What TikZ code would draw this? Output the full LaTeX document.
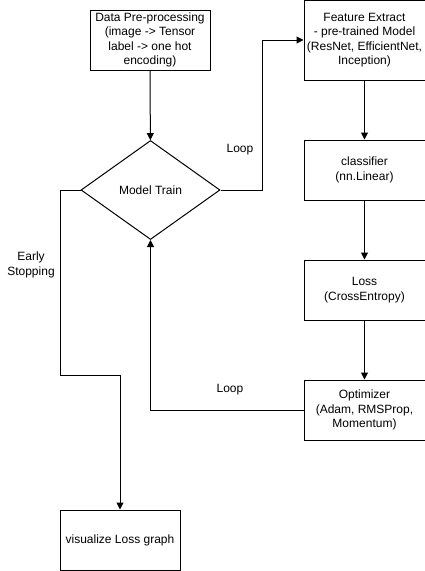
\documentclass[tikz,border=0pt]{standalone}
\usepackage{fontspec}
\setmainfont{Liberation Sans}
\usetikzlibrary{shapes.geometric,arrows.meta}
\tikzset{every node/.style={font=\fontsize{12}{14.4}\selectfont,align=center}}
\tikzset{stepbox/.style={draw,line width=1pt,minimum width=120pt,minimum height=60pt,inner sep=1pt}}
\tikzset{flow/.style={line width=1pt,-{Triangle[length=7pt,width=7pt]}}}

\begin{document}
\begin{tikzpicture}[x=1pt,y=-1pt]
        \useasboundingbox (0,0) rectangle (425,571);
        \node[stepbox] at (150,40) (prep) {Data Pre-processing\\(image -> Tensor\\label -> one hot\\encoding)};
        \node[stepbox,minimum width=121pt,minimum height=80pt] at (364.5,40) (feat) {Feature Extract\\- pre-trained Model\\(ResNet, EfficientNet,\\Inception)};
        \node[draw,diamond,line width=1pt,minimum width=139pt,minimum height=99pt,aspect=1.4,inner sep=0pt] at (150.5,190) (train) {Model Train};
        \node[stepbox,minimum width=121pt] at (364.5,170) (clf) {classifier\\(nn.Linear)};
        \node[stepbox,minimum width=121pt] at (364.5,290) (loss) {Loss\\(CrossEntropy)};
        \node[stepbox,minimum width=121pt] at (364.5,410) (optim) {Optimizer\\(Adam, RMSProp,\\Momentum)};
        \node[stepbox] at (120,540) (vis) {visualize Loss graph};
        \node at (240,150) (loop1) {Loop};
        \node at (230,390) (loop2) {Loop};
        \node at (31,265) (early) {Early\\Stopping};
        \draw[flow] (prep) -- (train);
        \draw[flow] (train.east) -- (262,190) |- (feat.west);
        \draw[flow] (feat) -- (clf);
        \draw[flow] (clf) -- (loss);
        \draw[flow] (loss) -- (optim);
        \draw[flow] (optim.west) -| (train.south);
        \draw[flow] (train.west) -- (60,190) -- (60,375) -| (vis.north);
    \end{tikzpicture}
\end{document}
